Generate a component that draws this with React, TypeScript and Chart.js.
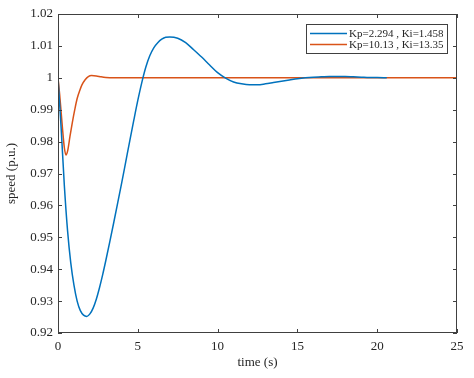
import React, { useEffect, useRef } from "react";
import { Chart, registerables } from "chart.js";

Chart.register(...registerables);

const seriesLabels = ["Kp=2.294 , Ki=1.458", "Kp=10.13 , Ki=13.35"];

const blueT = [0, 0.2, 0.4, 0.6, 0.8, 1.0, 1.2, 1.4, 1.6, 1.8, 2.0, 2.2, 2.4, 2.6, 2.8, 3.0, 3.25, 3.5, 3.75, 4.0, 4.25, 4.5, 4.75, 5.0, 5.25, 5.5, 5.75, 6.0, 6.25, 6.5, 6.75, 7.0, 7.5, 8.0, 8.5, 9.0, 9.5, 10.0, 10.5, 11.0, 11.5, 12.0, 12.5, 13.0, 13.5, 14.0, 14.5, 15.0, 15.5, 16.0, 16.5, 17.0, 17.5, 18.0, 18.5, 19.0, 19.5, 20.0, 20.6];
const blueV = [1.0, 0.984, 0.966, 0.952, 0.942, 0.935, 0.930, 0.927, 0.9256, 0.9252, 0.926, 0.9278, 0.9306, 0.9342, 0.9383, 0.9428, 0.9487, 0.9548, 0.961, 0.9673, 0.9738, 0.9803, 0.9867, 0.9929, 0.9985, 1.0033, 1.0069, 1.0094, 1.011, 1.0121, 1.0127, 1.0128, 1.0124, 1.011, 1.0088, 1.0065, 1.004, 1.0016, 0.9999, 0.9987, 0.9981, 0.9978, 0.9978, 0.9981, 0.9985, 0.9989, 0.9993, 0.9997, 1.0, 1.0002, 1.0003, 1.0004, 1.0004, 1.0004, 1.0003, 1.0002, 1.0001, 1.0001, 1.0];

const orangeT = [0, 0.1, 0.2, 0.3, 0.4, 0.5, 0.6, 0.75, 0.9, 1.05, 1.2, 1.375, 1.5, 1.7, 1.9, 2.1, 2.4, 2.7, 3.0, 3.5, 5, 10, 15, 20, 25];
const orangeV = [1.0, 0.995, 0.989, 0.983, 0.978, 0.9758, 0.977, 0.9816, 0.986, 0.990, 0.9935, 0.9962, 0.9978, 0.9994, 1.0004, 1.0007, 1.0006, 1.0003, 1.0001, 1.0, 1.0, 1.0, 1.0, 1.0, 1.0];

const xTicks = [0, 5, 10, 15, 20, 25];
const yMin = 0.92;
const yMax = 1.02;

const colors = ["#0072BD", "#D95319"];
const axisColor = "#404040";
const fontFamily = "'Liberation Serif', 'Times New Roman', serif";

const toPoints = (t: number[], v: number[]) => t.map((x, i) => ({ x, y: v[i] }));

const boxTicksPlugin = {
  id: "boxTicks",
  afterDraw(chart: any) {
    const { ctx, chartArea, scales } = chart;
    const { left, right, top, bottom } = chartArea;
    ctx.save();
    ctx.strokeStyle = axisColor;
    ctx.lineWidth = 1;
    ctx.strokeRect(left + 0.5, top + 0.5, right - left - 1, bottom - top - 1);
    const len = 4;
    ctx.beginPath();
    scales.x.ticks.forEach((t: any) => {
      const px = Math.round(scales.x.getPixelForValue(t.value)) + 0.5;
      ctx.moveTo(px, bottom);
      ctx.lineTo(px, bottom - len);
      ctx.moveTo(px, top);
      ctx.lineTo(px, top + len);
    });
    scales.y.ticks.forEach((t: any) => {
      const py = Math.round(scales.y.getPixelForValue(t.value)) + 0.5;
      ctx.moveTo(left, py);
      ctx.lineTo(left + len, py);
      ctx.moveTo(right, py);
      ctx.lineTo(right - len, py);
    });
    ctx.stroke();

    // legend
    const bx = 306, by = 24, bw = 141, bh = 29;
    ctx.fillStyle = "#ffffff";
    ctx.fillRect(bx, by, bw, bh);
    ctx.strokeStyle = axisColor;
    ctx.strokeRect(bx + 0.5, by + 0.5, bw, bh);
    ctx.font = `11px ${fontFamily}`;
    ctx.textBaseline = "middle";
    chart.data.datasets.forEach((ds: any, i: number) => {
      const yy = by + 9.5 + i * 11;
      ctx.strokeStyle = ds.borderColor;
      ctx.lineWidth = 1.5;
      ctx.beginPath();
      ctx.moveTo(bx + 4, yy);
      ctx.lineTo(bx + 41, yy);
      ctx.stroke();
      ctx.fillStyle = "#262626";
      ctx.fillText(ds.label, bx + 43, yy + 0.5);
    });
    ctx.restore();
  },
};

export default function App() {
  const ref = useRef<HTMLCanvasElement | null>(null);
  useEffect(() => {
    if (!ref.current) return;
    const chart = new Chart(ref.current, {
      type: "line",
      data: {
        datasets: [
          {
            label: seriesLabels[0],
            data: toPoints(blueT, blueV),
            borderColor: colors[0],
            borderWidth: 1.5,
            pointRadius: 0,
            cubicInterpolationMode: "monotone",
            fill: false,
          },
          {
            label: seriesLabels[1],
            data: toPoints(orangeT, orangeV),
            borderColor: colors[1],
            borderWidth: 1.5,
            pointRadius: 0,
            cubicInterpolationMode: "monotone",
            fill: false,
          },
        ],
      },
      options: {
        animation: false,
        responsive: false,
        maintainAspectRatio: false,
        layout: { padding: { left: 0, right: 17, top: 14, bottom: 0 } },
        plugins: {
          legend: { display: false },
          tooltip: { enabled: false },
        },
        scales: {
          x: {
            type: "linear",
            min: 0,
            max: 25,
            afterBuildTicks: (scale: any) => {
              scale.ticks = xTicks.map((v) => ({ value: v }));
            },
            afterFit: (scale: any) => {
              scale.height = 45;
            },
            grid: { display: false, drawTicks: false },
            border: { display: false },
            ticks: {
              color: "#262626",
              font: { family: fontFamily, size: 13 },
              padding: 6,
              maxRotation: 0,
            },
            title: {
              display: true,
              text: "time (s)",
              color: "#262626",
              font: { family: fontFamily, size: 13 },
              padding: { top: 4, bottom: 8 },
            },
          },
          y: {
            type: "linear",
            min: yMin,
            max: yMax,
            afterFit: (scale: any) => {
              scale.width = 58;
            },
            grid: { display: false, drawTicks: false },
            border: { display: false },
            ticks: {
              stepSize: 0.01,
              color: "#262626",
              font: { family: fontFamily, size: 13 },
              padding: 5,
              callback: (v: any) => parseFloat(Number(v).toFixed(2)).toString(),
            },
            title: {
              display: true,
              text: "speed (p.u.)",
              color: "#262626",
              font: { family: fontFamily, size: 13 },
              padding: { top: 4, bottom: 0 },
            },
          },
        },
      },
      plugins: [boxTicksPlugin],
    } as any);
    return () => chart.destroy();
  }, []);
  return (
    <div style={{ position: "fixed", left: 0, top: 0, width: 474, height: 378, background: "#fff" }}>
      <canvas ref={ref} width={474} height={378} style={{ width: 474, height: 378 }} />
    </div>
  );
}
